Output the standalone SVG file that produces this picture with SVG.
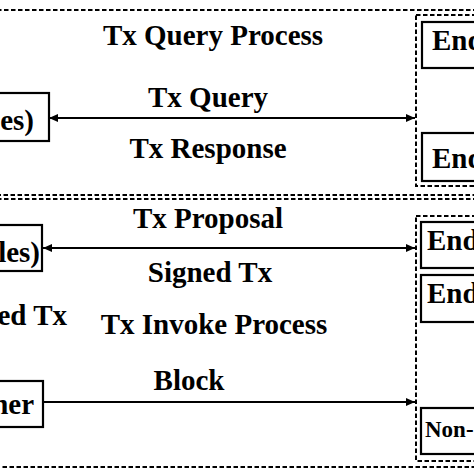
<svg xmlns="http://www.w3.org/2000/svg" width="474" height="474" viewBox="0 0 474 474">
<defs>
<style>
.t{font-family:"Liberation Serif","Times New Roman",serif;font-weight:bold;font-size:29px;fill:#000}
.box{fill:#fff;stroke:#000;stroke-width:2.2}
.dash{fill:none;stroke:#000;stroke-width:2;stroke-dasharray:4.5 2.5}
.ln{stroke:#000;stroke-width:2;fill:none}
</style>
<marker id="ah" viewBox="0 0 9 8" refX="9" refY="4" markerWidth="9" markerHeight="8" markerUnits="userSpaceOnUse" orient="auto-start-reverse">
<path d="M0,0 L9,4 L0,8 z" fill="#000"/>
</marker>
</defs>
<rect width="474" height="474" fill="#fff"/>

<g id="query-section">
<rect class="dash" x="-10" y="10" width="494" height="185"/>
<text class="t" x="213" y="45" text-anchor="middle">Tx Query Process</text>
<text class="t" x="208" y="107" text-anchor="middle">Tx Query</text>
<text class="t" x="208" y="158" text-anchor="middle">Tx Response</text>
</g>

<g id="client-query">
<rect class="box" x="-20" y="93" width="69" height="48"/>
<text class="t" x="34" y="130" text-anchor="end">es)</text>
</g>

<g id="endorsers-query">
<rect class="dash" x="416" y="15" width="80" height="171"/>
<g id="endorser-q1">
<rect class="box" x="422" y="22" width="70" height="46"/>
<text class="t" x="432" y="50">End</text>
</g>
<g id="endorser-q2">
<rect class="box" x="422" y="133" width="70" height="48"/>
<text class="t" x="432" y="168">End</text>
</g>
</g>

<g id="invoke-section">
<rect class="dash" x="-10" y="199" width="494" height="268"/>
<text class="t" x="208" y="228" text-anchor="middle">Tx Proposal</text>
<text class="t" x="210" y="282" text-anchor="middle">Signed Tx</text>
<text class="t" x="67" y="325" text-anchor="end">ed Tx</text>
<text class="t" x="214" y="334" text-anchor="middle">Tx Invoke Process</text>
<text class="t" x="189" y="390" text-anchor="middle">Block</text>
</g>

<g id="client-invoke">
<rect class="box" x="-20" y="225" width="62" height="46"/>
<text class="t" x="40" y="262" text-anchor="end">les)</text>
</g>

<g id="orderer">
<rect class="box" x="-20" y="381" width="63" height="46"/>
<text class="t" x="34" y="414" text-anchor="end">ner</text>
</g>

<g id="peers-invoke">
<rect class="dash" x="416" y="216" width="80" height="245"/>
<g id="endorser-i1">
<rect class="box" x="421" y="222" width="70" height="46"/>
<text class="t" x="427" y="250">End</text>
</g>
<g id="endorser-i2">
<rect class="box" x="421" y="275" width="70" height="47"/>
<text class="t" x="427" y="303">End</text>
</g>
<g id="non-endorser">
<rect class="box" x="421" y="408" width="70" height="46"/>
<text class="t" x="425" y="437" style="font-size:23px">Non-</text>
</g>
</g>

<g id="connectors">
<line class="ln" x1="49" y1="118" x2="415" y2="118" marker-start="url(#ah)" marker-end="url(#ah)"/>
<line class="ln" x1="43" y1="248" x2="415" y2="248" marker-start="url(#ah)" marker-end="url(#ah)"/>
<line class="ln" x1="43" y1="402" x2="415" y2="402" marker-end="url(#ah)"/>
</g>
</svg>
